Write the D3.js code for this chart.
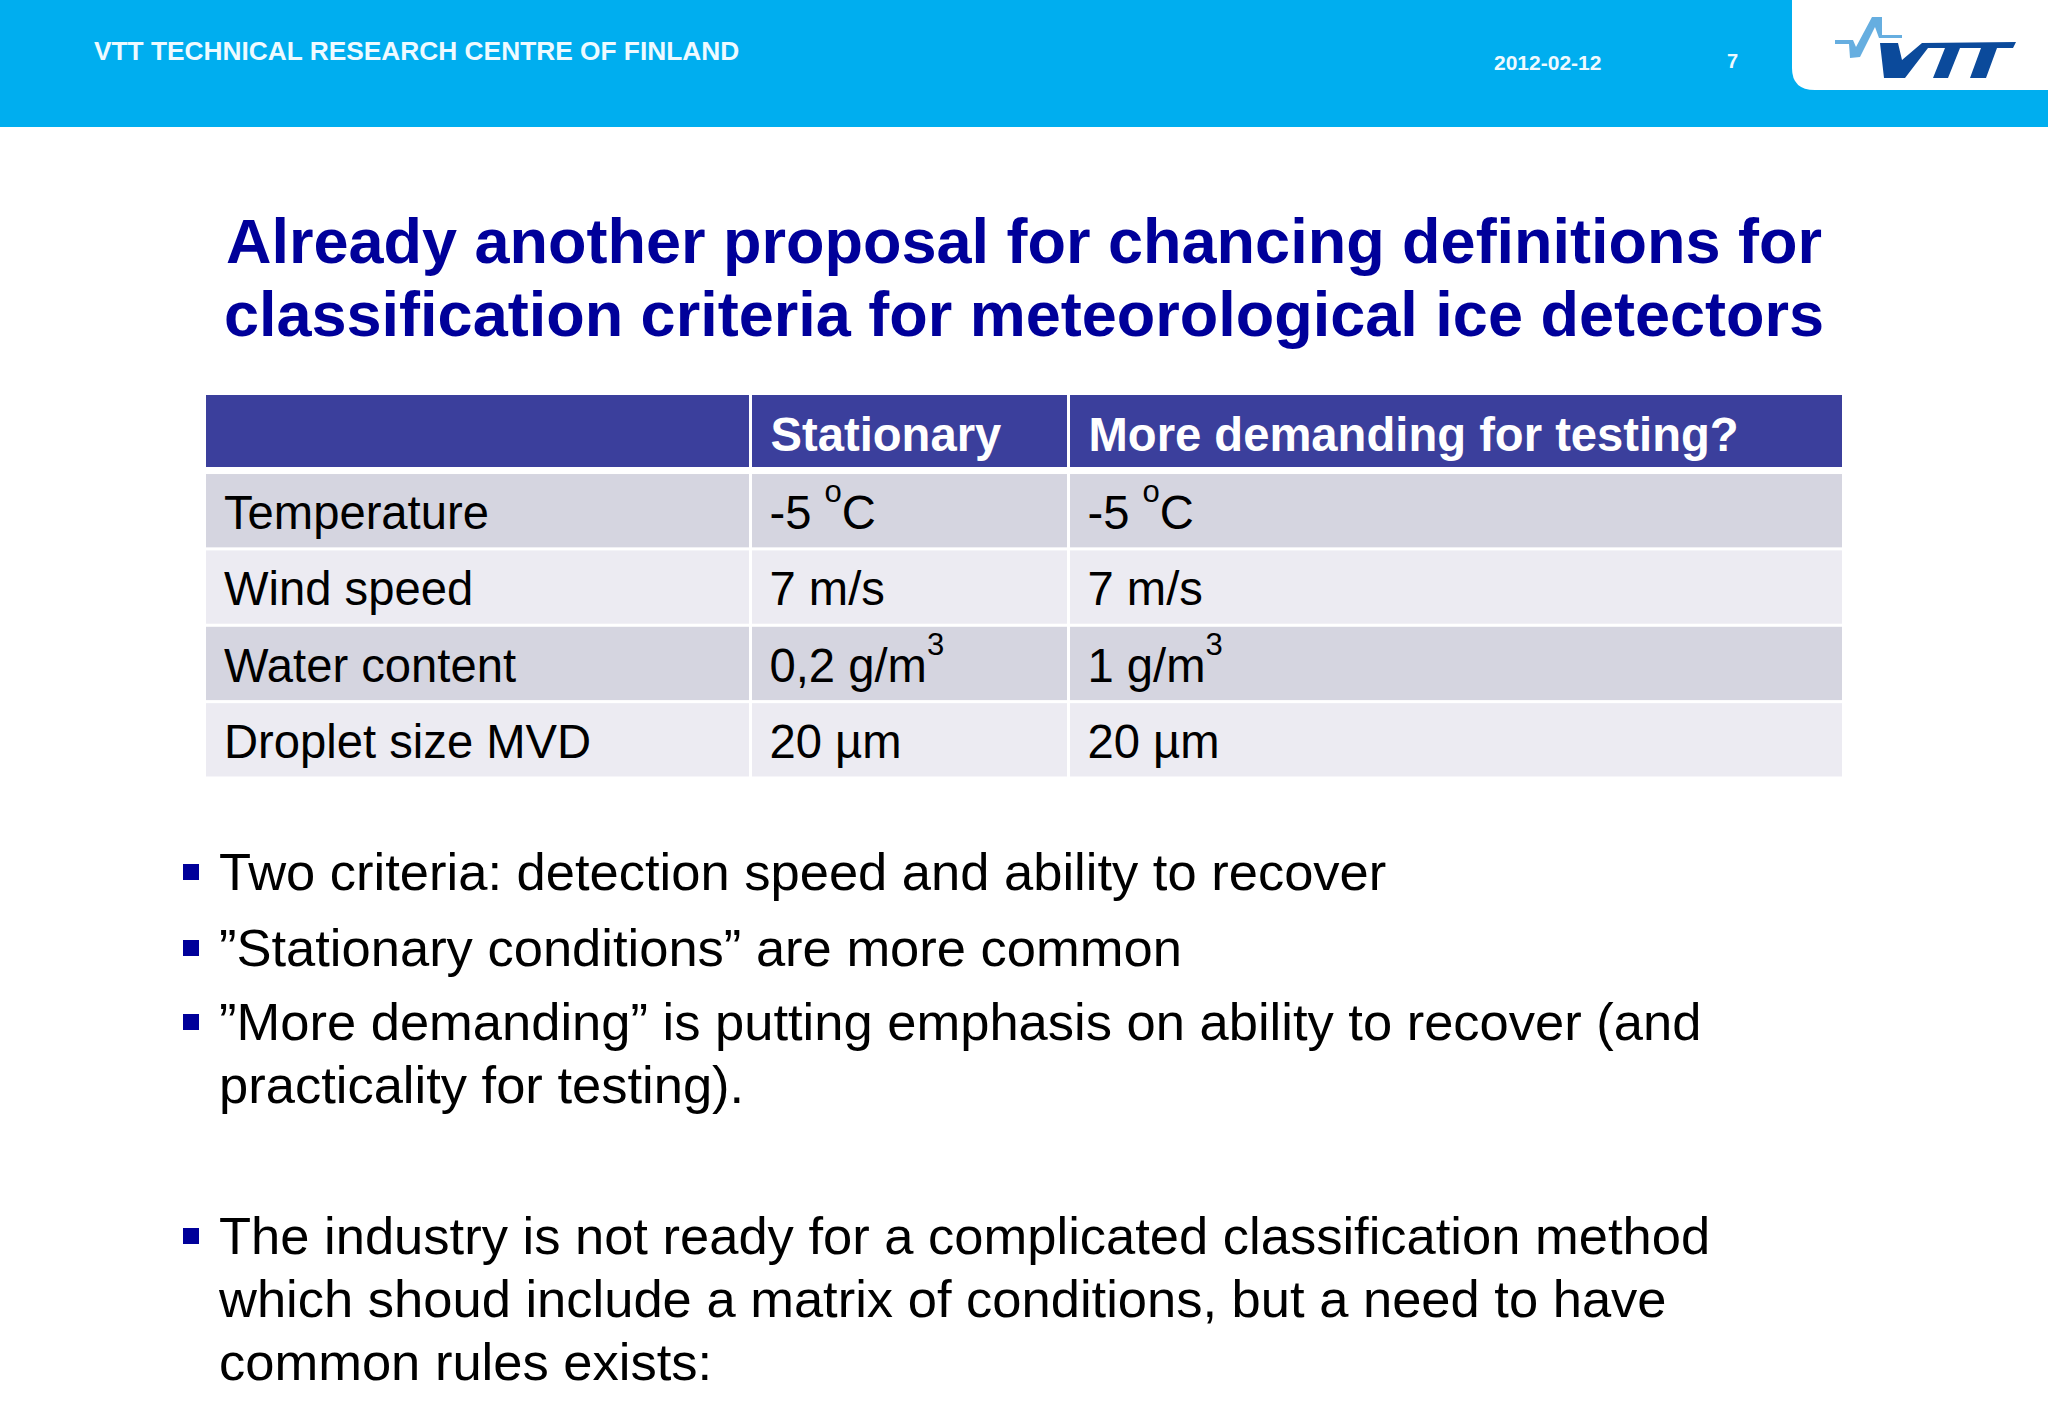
<!DOCTYPE html>
<html>
<head>
<meta charset="utf-8">
<script src="https://cdn.jsdelivr.net/npm/d3@7"></script>
<style>
  html, body { margin: 0; padding: 0; background: #fff; }
  svg { display: block; }
  text { font-family: "Liberation Sans", Arial, sans-serif; }
</style>
</head>
<body>
<div id="slide"></div>
<script>
// slide text
var bandLabel = "VTT TECHNICAL RESEARCH CENTRE OF FINLAND";
var slideDate = "2012-02-12";
var slideNumber = "7";
var titleLines = [
  "Already another proposal for chancing definitions for",
  "classification criteria for meteorological ice detectors"
];

// table values, ^x^ marks a superscript
var columnHeads = ["", "Stationary", "More demanding for testing?"];
var rowLabels = ["Temperature", "Wind speed", "Water content", "Droplet size MVD"];
var stationaryValues = ["-5 ^o^C", "7 m/s", "0,2 g/m^3^", "20 µm"];
var demandingValues = ["-5 ^o^C", "7 m/s", "1 g/m^3^", "20 µm"];

// bullets, one array per bullet, one string per wrapped line
var bulletLines = [
  ["Two criteria: detection speed and ability to recover"],
  ["”Stationary conditions” are more common"],
  ["”More demanding” is putting emphasis on ability to recover (and", "practicality for testing)."],
  ["The industry is not ready for a complicated classification method", "which shoud include a matrix of conditions, but a need to have", "common rules exists:"]
];
var bulletBaselines = [[890], [966], [1040, 1103], [1254, 1317, 1380]];

var svgWidth = 2048;
var svgHeight = 1418;

var svg = d3.select("#slide")
  .append("svg")
  .attr("width", svgWidth)
  .attr("height", svgHeight)
  .attr("viewBox", `0 0 ${svgWidth} ${svgHeight}`);

svg.append("rect").attr("width", svgWidth).attr("height", svgHeight).attr("fill", "#fff");

// top band
svg.append("rect").attr("width", svgWidth).attr("height", 127).attr("fill", "#00aeef");

svg.append("text")
  .attr("x", 94).attr("y", 60)
  .attr("font-size", 26.3).attr("font-weight", "bold").attr("fill", "#eefaff")
  .text(bandLabel);

svg.append("text")
  .attr("x", 1494).attr("y", 70)
  .attr("font-size", 21).attr("font-weight", "bold").attr("fill", "#eefaff")
  .text(slideDate);

svg.append("text")
  .attr("x", 1727).attr("y", 68)
  .attr("font-size", 20).attr("font-weight", "bold").attr("fill", "#eefaff")
  .text(slideNumber);

// logo panel
svg.append("path")
  .attr("d", "M1792,0 V68 Q1792,90 1815,90 H2048 V0 Z")
  .attr("fill", "#fff");

var pulsePoints = [
  [1835, 40], [1853, 40], [1856, 47], [1872, 17], [1882, 17], [1882, 35], [1902, 35], [1902, 38],
  [1879, 38], [1875, 27], [1860, 57], [1850, 58], [1849, 44], [1835, 44]
];
var logoPoints = [
  [1880, 43], [1898, 43], [1902, 60], [1922, 43], [2016, 42], [2013, 48], [1997, 48],
  [1986, 78], [1970, 78], [1981, 48], [1960, 48], [1948, 78], [1933, 78], [1945, 48],
  [1928, 48], [1905, 78], [1884, 78]
];

svg.append("path")
  .attr("d", d3.line()(pulsePoints) + "Z")
  .attr("fill", "#66aee0");

svg.append("path")
  .attr("d", d3.line()(logoPoints) + "Z")
  .attr("fill", "#0b4a9b");

// title
svg.selectAll(".title")
  .data(titleLines)
  .enter()
  .append("text")
  .attr("class", "title")
  .attr("x", 1024)
  .attr("y", (d, i) => 262.5 + i * 73.5)
  .attr("text-anchor", "middle")
  .attr("font-size", 63)
  .attr("font-weight", "bold")
  .attr("fill", "#00009a")
  .text(d => d);

// table
var colLeft = d3.scaleOrdinal().domain([0, 1, 2]).range([206, 752, 1070]);
var colRight = d3.scaleOrdinal().domain([0, 1, 2]).range([749, 1067, 1842]);
var rowY = d3.scaleBand()
  .domain(rowLabels)
  .range([472.5, 778])
  .paddingInner(0.04)
  .paddingOuter(0.02);

var tableFont = 47;

// writes a value with its superscript parts as tspans
function writeCell(sel, value, size) {
  var parts = value.split("^");
  parts.forEach(function(part, i) {
    if (!part) return;
    var isSup = i % 2 === 1;
    var span = sel.append("tspan").text(part);
    if (isSup) {
      span.attr("font-size", size * 0.66).attr("dy", -size * 0.58);
    } else if (i > 0) {
      span.attr("dy", size * 0.58);
    }
  });
}

columnHeads.forEach(function(head, c) {
  svg.append("rect")
    .attr("x", colLeft(c)).attr("y", 395)
    .attr("width", colRight(c) - colLeft(c)).attr("height", 72)
    .attr("fill", "#3b3f9c");

  svg.append("text")
    .attr("x", colLeft(c) + 18.5).attr("y", 451)
    .attr("font-size", 47.2).attr("font-weight", "bold").attr("fill", "#fff")
    .text(head);
});

rowLabels.forEach(function(label, r) {
  var cells = [label, stationaryValues[r], demandingValues[r]];
  cells.forEach(function(value, c) {
    svg.append("rect")
      .attr("x", colLeft(c)).attr("y", rowY(label))
      .attr("width", colRight(c) - colLeft(c)).attr("height", rowY.bandwidth())
      .attr("fill", r % 2 === 0 ? "#d5d5e0" : "#ecebf2");

    var cellText = svg.append("text")
      .attr("x", colLeft(c) + (c === 0 ? 18 : 17.5))
      .attr("y", rowY(label) + rowY.bandwidth() * 0.75)
      .attr("font-size", 47.2)
      .attr("fill", "#000");
    writeCell(cellText, value, tableFont);
  });
});

// bullets
bulletLines.forEach(function(lines, b) {
  svg.append("rect")
    .attr("x", 183).attr("y", bulletBaselines[b][0] - 26)
    .attr("width", 16).attr("height", 16)
    .attr("fill", "#00009a");

  lines.forEach(function(line, l) {
    svg.append("text")
      .attr("x", 219).attr("y", bulletBaselines[b][l])
      .attr("font-size", 52.5)
      .attr("fill", "#000")
      .text(line);
  });
});
</script>
</body>
</html>
